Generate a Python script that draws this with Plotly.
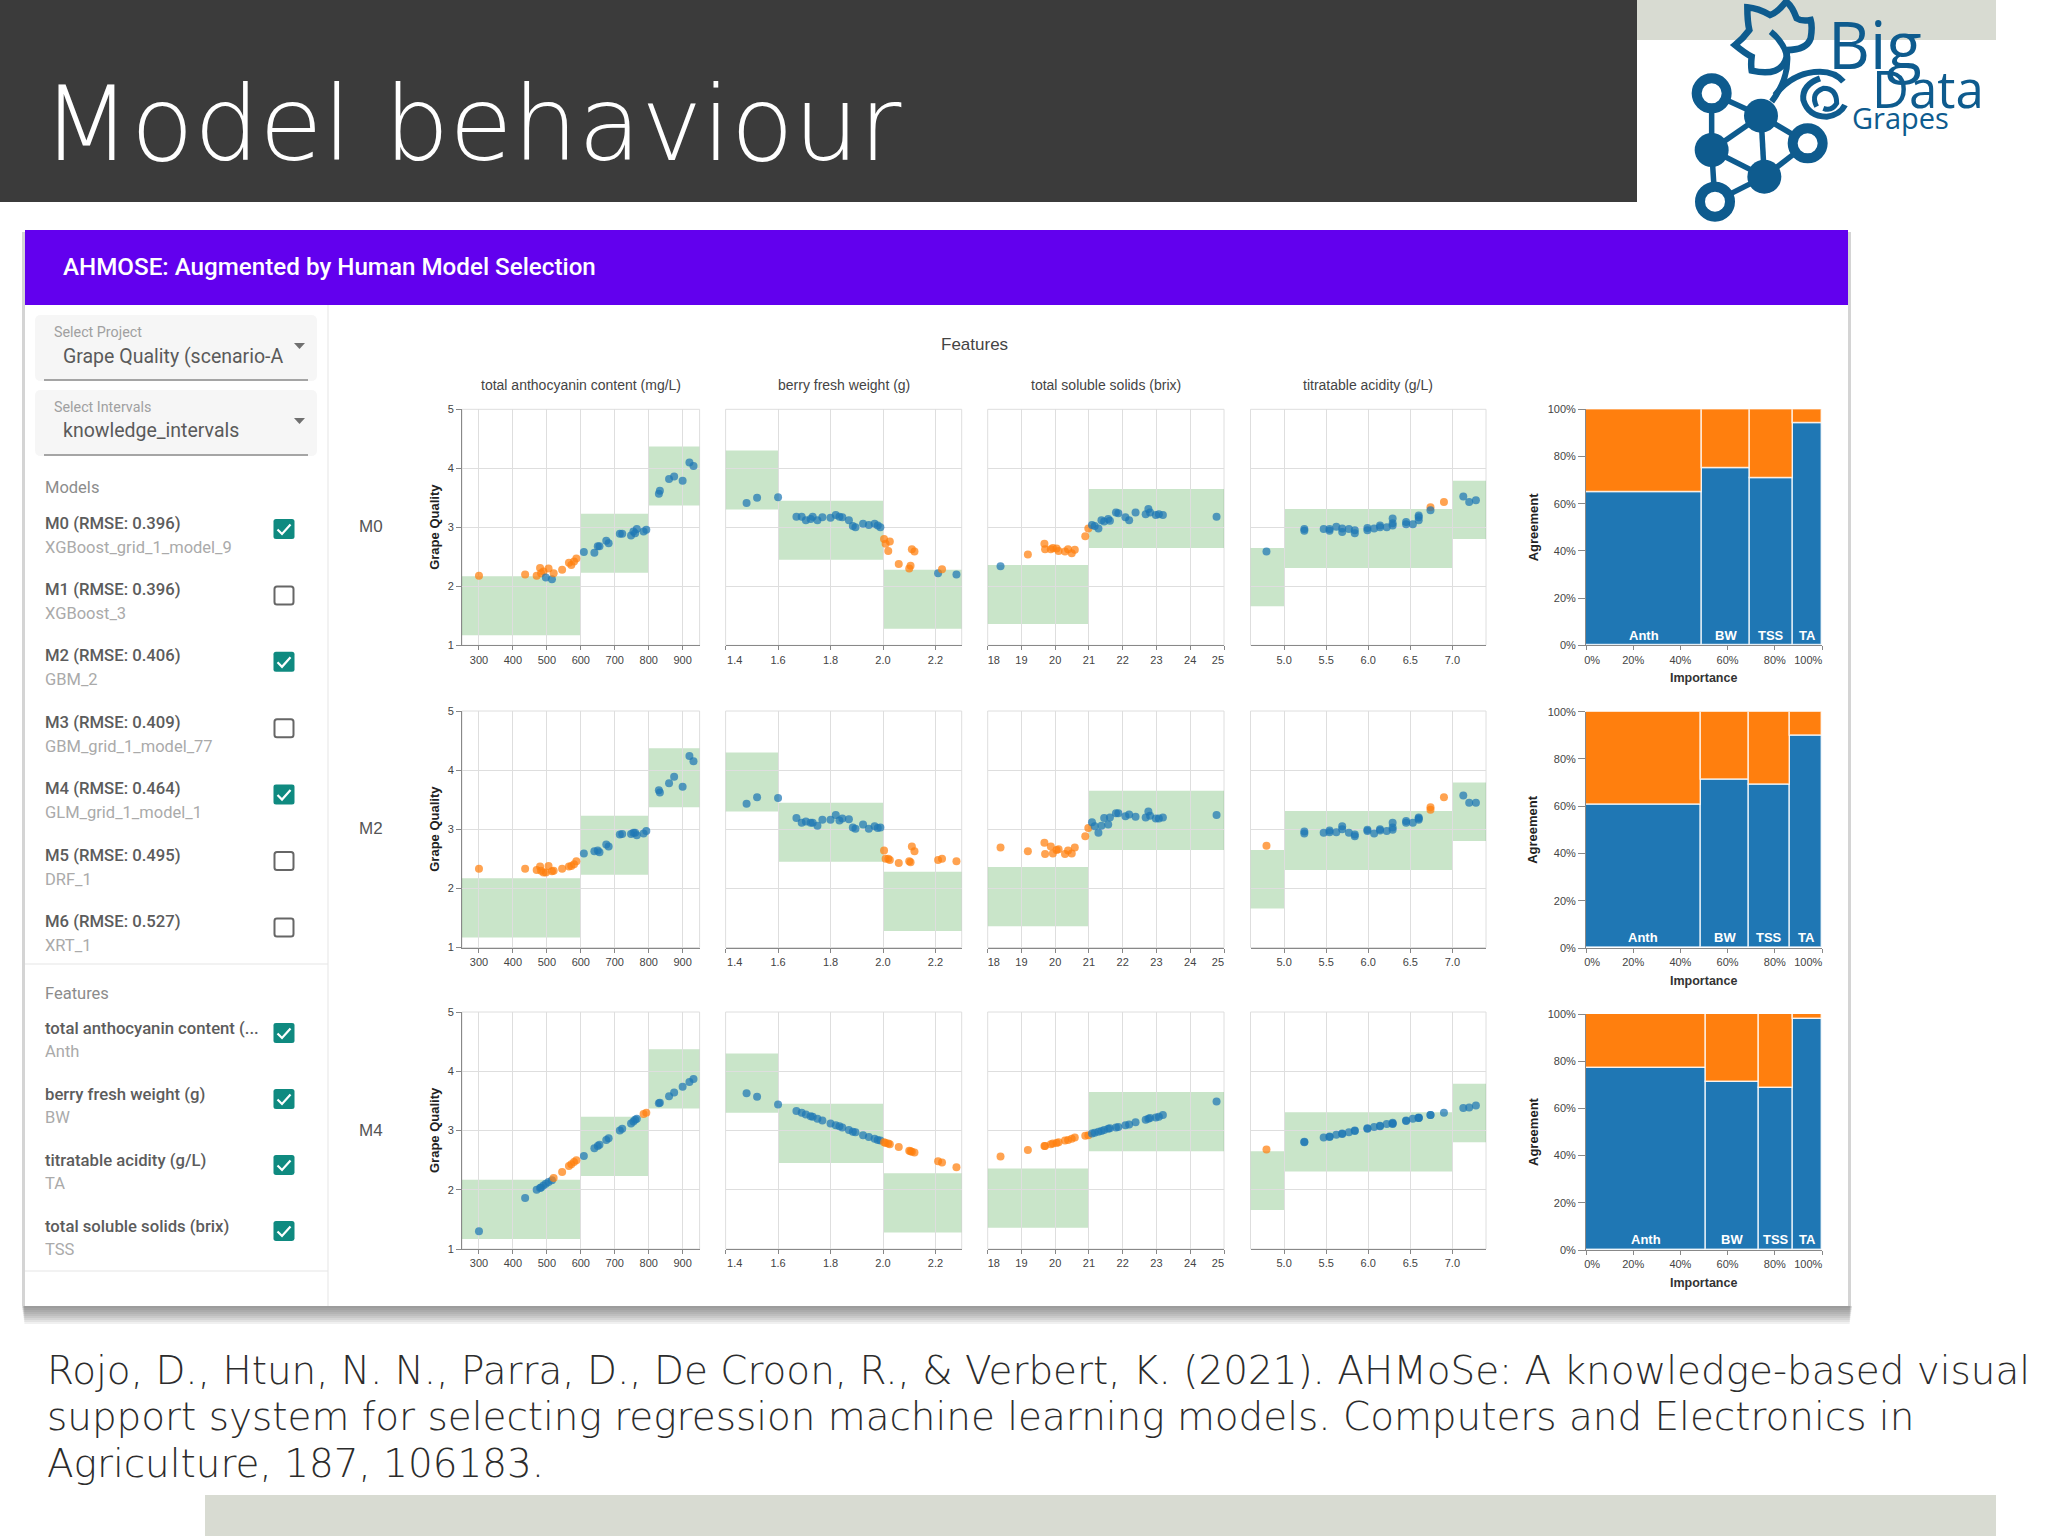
import plotly.graph_objects as go

W = 2048
H = 1536

BLUE = "#1f77b4"
ORANGE = "#ff7f0e"
GRID = "#dedede"
AXIS = "#888888"
TICK = "#444444"
LOGO = "#0e5b8e"
STRIP = "#d8dbd2"
TEAL = "#0f8a80"

# x values are the same samples in every model row
ANTH_X = [300, 436, 470, 480, 483, 490, 497, 505, 515, 520, 545, 565, 572, 580, 587, 609, 640, 650, 655, 675, 682, 715, 722, 748, 755, 760, 765, 785, 793, 830, 833, 860, 875, 900, 920, 932]
BW_X = [1.48, 1.52, 1.6, 1.67, 1.69, 1.706, 1.724, 1.732, 1.75, 1.769, 1.80, 1.82, 1.834, 1.845, 1.87, 1.885, 1.895, 1.924, 1.946, 1.968, 1.98, 1.99, 2.004, 2.01, 2.02, 2.026, 2.06, 2.10, 2.105, 2.11, 2.12, 2.21, 2.225, 2.28]
TSS_X = [18.38, 19.19, 19.68, 19.7, 19.87, 19.93, 20.04, 20.1, 20.29, 20.38, 20.49, 20.58, 20.89, 20.98, 21.09, 21.17, 21.28, 21.37, 21.45, 21.57, 21.62, 21.8, 21.87, 22.08, 22.19, 22.38, 22.68, 22.76, 22.81, 22.98, 23.07, 23.19, 24.78]
TA_X = [4.79, 5.24, 5.24, 5.47, 5.54, 5.54, 5.62, 5.69, 5.69, 5.77, 5.84, 5.84, 5.99, 5.99, 6.07, 6.14, 6.14, 6.22, 6.29, 6.29, 6.29, 6.45, 6.45, 6.53, 6.6, 6.6, 6.6, 6.74, 6.74, 6.9, 7.13, 7.2, 7.28]

M0_ANTH = [2.18, 2.2, 2.18, 2.31, 2.22, 2.25, 2.15, 2.3, 2.12, 2.22, 2.28, 2.4, 2.36, 2.42, 2.47, 2.58, 2.57, 2.68, 2.68, 2.77, 2.73, 2.89, 2.89, 2.86, 2.93, 2.9, 2.97, 2.93, 2.96, 3.57, 3.62, 3.82, 3.86, 3.79, 4.1, 4.04]
M2_ANTH = [2.33, 2.33, 2.31, 2.37, 2.3, 2.27, 2.27, 2.38, 2.29, 2.3, 2.33, 2.37, 2.38, 2.41, 2.46, 2.59, 2.63, 2.64, 2.61, 2.74, 2.71, 2.91, 2.92, 2.92, 2.94, 2.94, 2.9, 2.93, 2.97, 3.66, 3.62, 3.78, 3.89, 3.72, 4.24, 4.15]
M4_ANTH = [1.3, 1.86, 2.0, 2.03, 2.04, 2.07, 2.1, 2.13, 2.16, 2.2, 2.3, 2.4, 2.43, 2.47, 2.5, 2.57, 2.7, 2.74, 2.76, 2.84, 2.87, 3.0, 3.03, 3.12, 3.15, 3.18, 3.2, 3.28, 3.3, 3.46, 3.47, 3.58, 3.64, 3.74, 3.82, 3.87]

M0_BW = [3.41, 3.5, 3.51, 3.18, 3.18, 3.12, 3.14, 3.18, 3.12, 3.17, 3.16, 3.21, 3.18, 3.17, 3.12, 3.02, 3.0, 3.06, 3.04, 3.06, 3.03, 3.0, 2.8, 2.72, 2.6, 2.76, 2.38, 2.3, 2.35, 2.63, 2.59, 2.22, 2.29, 2.2]
M2_BW = [3.43, 3.54, 3.53, 3.19, 3.11, 3.13, 3.11, 3.11, 3.06, 3.16, 3.16, 3.24, 3.15, 3.18, 3.17, 3.03, 3.01, 3.08, 3.01, 3.05, 3.02, 3.03, 2.64, 2.5, 2.5, 2.48, 2.43, 2.46, 2.44, 2.71, 2.63, 2.48, 2.5, 2.46]
M4_BW = [3.63, 3.57, 3.44, 3.33, 3.3, 3.27, 3.24, 3.23, 3.2, 3.17, 3.12, 3.09, 3.07, 3.05, 3.01, 2.98, 2.97, 2.92, 2.89, 2.86, 2.84, 2.83, 2.8, 2.79, 2.78, 2.77, 2.72, 2.66, 2.65, 2.64, 2.63, 2.48, 2.46, 2.38]

M0_TSS = [2.34, 2.54, 2.72, 2.63, 2.63, 2.65, 2.64, 2.6, 2.59, 2.63, 2.56, 2.62, 2.85, 2.98, 3.04, 3.02, 2.98, 3.12, 3.1, 3.14, 3.11, 3.25, 3.24, 3.17, 3.12, 3.25, 3.22, 3.31, 3.25, 3.21, 3.22, 3.21, 3.18]
M2_TSS = [2.69, 2.63, 2.77, 2.58, 2.71, 2.59, 2.65, 2.66, 2.58, 2.64, 2.59, 2.69, 2.88, 3.02, 3.12, 3.05, 2.94, 3.06, 3.19, 3.08, 3.2, 3.27, 3.27, 3.22, 3.25, 3.21, 3.2, 3.3, 3.23, 3.18, 3.18, 3.2, 3.24]
M4_TSS = [2.56, 2.67, 2.74, 2.74, 2.77, 2.78, 2.79, 2.8, 2.83, 2.84, 2.86, 2.88, 2.91, 2.92, 2.95, 2.96, 2.98, 2.99, 3.01, 3.03, 3.04, 3.05, 3.06, 3.09, 3.1, 3.14, 3.18, 3.2, 3.21, 3.22, 3.23, 3.26, 3.49]

M0_TA = [2.59, 2.97, 2.94, 2.97, 2.97, 2.94, 3.01, 2.98, 2.92, 2.97, 2.95, 2.9, 2.99, 2.95, 2.98, 3.03, 3.0, 3.0, 3.15, 3.07, 3.03, 3.09, 3.05, 3.05, 3.2, 3.17, 3.12, 3.34, 3.29, 3.43, 3.52, 3.43, 3.46]
M2_TA = [2.72, 2.96, 2.93, 2.94, 2.98, 2.95, 2.95, 3.05, 3.0, 2.94, 2.91, 2.88, 2.99, 2.97, 2.93, 3.0, 2.98, 2.97, 3.11, 3.03, 2.99, 3.14, 3.11, 3.11, 3.2, 3.18, 3.16, 3.37, 3.33, 3.54, 3.57, 3.45, 3.45]
M4_TA = [2.68, 2.81, 2.8, 2.88, 2.9, 2.89, 2.93, 2.95, 2.94, 2.97, 3.0, 2.99, 3.04, 3.03, 3.06, 3.08, 3.07, 3.11, 3.13, 3.12, 3.11, 3.17, 3.16, 3.2, 3.22, 3.21, 3.21, 3.26, 3.26, 3.3, 3.38, 3.39, 3.42]

# knowledge intervals per feature: x from, x to, y low, y high
ANTH_BANDS = [(250, 600, 1.17, 2.17), (600, 800, 2.23, 3.23), (800, 950, 3.37, 4.37)]
BW_BANDS = [(1.4, 1.6, 3.3, 4.3), (1.6, 2.0, 2.45, 3.45), (2.0, 2.3, 1.28, 2.28)]
TSS_BANDS = [(18, 21, 1.36, 2.36), (21, 25, 2.65, 3.65)]
TA_BANDS = [(4.6, 5.0, 1.66, 2.65), (5.0, 7.0, 2.31, 3.31), (7.0, 7.4, 2.8, 3.79)]

MOSAIC_NAMES = ["Anth", "BW", "TSS", "TA"]
M0_IMPORTANCE = [0.49, 0.205, 0.181, 0.124]
M0_AGREE = [0.647, 0.752, 0.709, 0.94]
M2_IMPORTANCE = [0.487, 0.203, 0.175, 0.135]
M2_AGREE = [0.605, 0.711, 0.69, 0.898]
M4_IMPORTANCE = [0.507, 0.227, 0.144, 0.122]
M4_AGREE = [0.773, 0.71, 0.688, 0.979]

ROW_NAMES = ["M0", "M2", "M4"]
FEATURE_TITLES = ["total anthocyanin content (mg/L)", "berry fresh weight (g)", "total soluble solids (brix)", "titratable acidity (g/L)"]
FEATURE_XS = [ANTH_X, BW_X, TSS_X, TA_X]
FEATURE_BANDS = [ANTH_BANDS, BW_BANDS, TSS_BANDS, TA_BANDS]
FEATURE_RANGES = [[250, 950], [1.4, 2.3], [18, 25], [4.6, 7.4]]
FEATURE_TICKS = [[300, 400, 500, 600, 700, 800, 900], [1.4, 1.6, 1.8, 2.0, 2.2], [18, 19, 20, 21, 22, 23, 24, 25], [5, 5.5, 6, 6.5, 7]]
NB = "\u00a0"
FEATURE_TICKTEXT = [
    ["300", "400", "500", "600", "700", "800", "900"],
    [NB * 6 + "1.4", "1.6", "1.8", "2.0", "2.2"],
    [NB * 4 + "18", "19", "20", "21", "22", "23", "24", "25" + NB * 4],
    ["5.0", "5.5", "6.0", "6.5", "7.0"],
]
ROW_Y = [M0_ANTH, M0_BW, M0_TSS, M0_TA], [M2_ANTH, M2_BW, M2_TSS, M2_TA], [M4_ANTH, M4_BW, M4_TSS, M4_TA]
ROW_IMPORTANCE = [M0_IMPORTANCE, M2_IMPORTANCE, M4_IMPORTANCE]
ROW_AGREE = [M0_AGREE, M2_AGREE, M4_AGREE]

MODEL_ITEMS = [("M0 (RMSE: 0.396)", "XGBoost_grid_1_model_9", True), ("M1 (RMSE: 0.396)", "XGBoost_3", False),
               ("M2 (RMSE: 0.406)", "GBM_2", True), ("M3 (RMSE: 0.409)", "GBM_grid_1_model_77", False),
               ("M4 (RMSE: 0.464)", "GLM_grid_1_model_1", True), ("M5 (RMSE: 0.495)", "DRF_1", False),
               ("M6 (RMSE: 0.527)", "XRT_1", False)]
FEATURE_ITEMS = [("total anthocyanin content (...", "Anth"), ("berry fresh weight (g)", "BW"),
                 ("titratable acidity (g/L)", "TA"), ("total soluble solids (brix)", "TSS")]
CITATION = ["Rojo, D., Htun, N. N., Parra, D., De Croon, R., & Verbert, K. (2021). AHMoSe: A knowledge-based visual",
            "support system for selecting regression machine learning models. Computers and Electronics in",
            "Agriculture, 187, 106183."]

# pixel layout of the panels
COL_X = [(462, 699.6), (725.6, 961.7), (987.7, 1224), (1250.5, 1486)]
ROW_TOP = [(409.3, 645.3), (711, 947.5), (1012, 1249)]
MOSAIC_X = (1586, 1822)
MOSAIC_TOP = [(409.3, 645.3), (711.7, 948), (1014, 1250)]


def fx(x):
    return x / W


def fy(y):
    return 1 - y / H


def axis_id(n):
    return "" if n == 1 else str(n)


shapes = []
annotations = []


def rect(x0, y0, x1, y1, fill, line=None, opacity=1, width=1):
    shapes.append(dict(type="rect", xref="paper", yref="paper", x0=fx(x0), x1=fx(x1), y0=fy(y0), y1=fy(y1),
                       fillcolor=fill, opacity=opacity, layer="below", line=dict(color=line, width=width) if line else dict(width=0)))


def path(d, fill=None, line=None, width=1, layer="below"):
    # d is a list of (command, x, y) in pixels
    parts = []
    for item in d:
        cmd = item[0]
        nums = item[1:]
        txt = []
        for i in range(0, len(nums), 2):
            txt.append("%.5f,%.5f" % (fx(nums[i]), fy(nums[i + 1])))
        parts.append(cmd + " " + " ".join(txt))
    shapes.append(dict(type="path", xref="paper", yref="paper", path=" ".join(parts), layer=layer,
                       fillcolor=fill if fill else "rgba(0,0,0,0)", line=dict(color=line, width=width) if line else dict(width=0)))


def round_rect(x0, y0, x1, y1, r, fill=None, line=None, width=1):
    path([("M", x0 + r, y0), ("L", x1 - r, y0), ("Q", x1, y0, x1, y0 + r), ("L", x1, y1 - r), ("Q", x1, y1, x1 - r, y1),
          ("L", x0 + r, y1), ("Q", x0, y1, x0, y1 - r), ("L", x0, y0 + r), ("Q", x0, y0, x0 + r, y0), ("Z",)],
         fill=fill, line=line, width=width)


def label(text, x, y, size, color, anchor="left", family="Roboto", weight=None, angle=0):
    f = dict(size=size, color=color, family=family)
    if weight:
        f["weight"] = weight
    annotations.append(dict(text=text, x=fx(x), y=fy(y), xref="paper", yref="paper", showarrow=False, xanchor=anchor,
                            yanchor="middle", font=f, textangle=angle, borderpad=0, borderwidth=0))


def checkbox(y, checked):
    cx = 284
    if checked:
        round_rect(cx - 10.5, y - 10, cx + 10.5, y + 10, 2.5, fill=TEAL)
        path([("M", cx - 6.5, y + 0.5), ("L", cx - 2, y + 5), ("L", cx + 6.5, y - 4.5)], line="white", width=2.2)
    else:
        round_rect(cx - 9.5, y - 9, cx + 9.5, y + 9, 2.5, line="#666666", width=2)


def select_box(y0, y1, title, value):
    round_rect(35, y0, 317, y1 + 1, 6, fill="#f6f6f6")
    shapes.append(dict(type="line", xref="paper", yref="paper", x0=fx(44), x1=fx(308), y0=fy(y1), y1=fy(y1),
                       layer="below", line=dict(color="#8a8a8a", width=1.5)))
    label(title, 54, y0 + 17, 14.3, "#a0a0a0")
    label(value, 63, y0 + 41, 19.5, "#5a5a5a")
    path([("M", 294, y0 + 28), ("L", 305, y0 + 28), ("L", 299.5, y0 + 34), ("Z",)], fill="#707070")


# slide background pieces
rect(1637, 0, 1996, 40, STRIP)
rect(205, 1495, 1996, 1536, STRIP)
rect(0, 0, 1637, 202, "#3b3b3b")
label("Model behaviour", 42, 124, 103, "white", family="DejaVu Sans", weight=200)

# card with soft shadow
for i in range(9):
    rect(22 + i * 0.3, 1306, 1852 - i * 0.3, 1308 + i * 2, "#555555", opacity=0.09)
rect(22, 232, 1851, 1306, "#d4d4d4")
rect(25, 230, 1848, 1306, "white")
rect(25, 230, 1848, 305, "#6200ee")
label("AHMOSE: Augmented by Human Model Selection", 63, 267, 24.2, "white", weight=500)
rect(327.5, 305, 328.5, 1306, "#e6e6e6")
rect(25, 963.5, 328, 964.5, "#e6e6e6")
rect(25, 1270.5, 328, 1271.5, "#e6e6e6")

select_box(315, 380, "Select Project", "Grape Quality (scenario-A")
select_box(390, 455, "Select Intervals", "knowledge_intervals")

label("Models", 45, 488, 16.5, "#8c8c8c")
for i, (name, sub, checked) in enumerate(MODEL_ITEMS):
    y = 523 + i * 66.4
    label(name, 45, y, 16.7, "#5c5c5c", weight=500)
    label(sub, 45, y + 24, 16.5, "#aaaaaa")
    checkbox(y + 6, checked)

label("Features", 45, 993, 16.5, "#8c8c8c")
for i, (name, sub) in enumerate(FEATURE_ITEMS):
    y = 1028 + i * 66
    label(name, 45, y, 16.7, "#5c5c5c", weight=500)
    label(sub, 45, y + 23, 16.5, "#aaaaaa")
    checkbox(y + 5, True)

label("Features", 974, 344, 17, "#444444", anchor="center", family="Liberation Sans")
for c, title in enumerate(FEATURE_TITLES):
    label(title, (COL_X[c][0] + COL_X[c][1]) / 2, 385, 14, "#444444", anchor="center", family="Liberation Sans")

for i, line in enumerate(CITATION):
    label(line, 47, 1370 + i * 46.5, 38.9, "#2c2c2c", family="DejaVu Sans", weight=200)

# logo, drawn in the crop's own coordinates
def lp(*nums):
    out = []
    for i in range(0, len(nums), 2):
        out += [1660 + nums[i] / 3, nums[i + 1] / 3]
    return out


def lpath(cmds, width):
    path([(c[0], *lp(*c[1:])) for c in cmds], line=LOGO, width=width, layer="above")


def lcircle(x, y, r, fill, width=0):
    cx, cy = lp(x, y)
    shapes.append(dict(type="circle", xref="paper", yref="paper", x0=fx(cx - r), x1=fx(cx + r), y0=fy(cy - r), y1=fy(cy + r),
                       fillcolor=fill, line=dict(color=LOGO, width=width), layer="above"))


for a, b in [((155, 280), (303, 347)), ((155, 280), (155, 450)), ((303, 347), (443, 430)), ((303, 347), (155, 450)),
             ((303, 347), (313, 530)), ((155, 450), (313, 530)), ((443, 430), (313, 530)), ((155, 450), (165, 605)),
             ((165, 605), (313, 530))]:
    lpath([("M", *a), ("L", *b)], 5.5)
lcircle(155, 280, 15, "white", 10)
lcircle(443, 430, 15, "white", 10)
lcircle(165, 605, 15, "white", 10)
lcircle(303, 347, 17, LOGO)
lcircle(155, 450, 17, LOGO)
lcircle(313, 530, 17, LOGO)
lpath([("M", 380, 150), ("Q", 440, 150, 452, 115), ("Q", 458, 80, 452, 60), ("Q", 425, 65, 410, 55), ("Q", 395, 15, 378, 5),
       ("Q", 350, 40, 330, 45), ("Q", 295, 25, 262, 22), ("Q", 262, 65, 268, 90), ("Q", 250, 115, 225, 135), ("Q", 255, 160, 275, 170),
       ("Q", 272, 195, 275, 212), ("Q", 320, 222, 345, 212), ("Q", 385, 195, 380, 150)], 6.5)
lpath([("M", 332, 95), ("Q", 370, 125, 382, 170), ("Q", 385, 240, 335, 305)], 6)
lpath([("M", 345, 285), ("Q", 400, 215, 480, 215), ("Q", 525, 215, 550, 245)], 6)
lpath([("M", 480, 235), ("Q", 425, 255, 430, 300), ("Q", 445, 350, 500, 350), ("Q", 540, 345, 555, 315)], 6)
lpath([("M", 470, 320), ("Q", 450, 280, 490, 265), ("Q", 530, 265, 530, 310), ("Q", 515, 335, 490, 325)], 5)
label("Big", 1828, 44, 65, LOGO, family="Open Sans")
label("Data", 1872, 88, 51, LOGO, family="Open Sans")
label("Grapes", 1852, 118, 29, LOGO, family="Open Sans")

fig = go.Figure()
layout_axes = {}
n = 0

for r, row in enumerate(ROW_NAMES):
    top, bottom = ROW_TOP[r]
    label(row, 371, (top + bottom) / 2 - 0.5, 17, "#555555", anchor="center", family="Liberation Sans")
    label("Grape Quality", 434.5, (top + bottom) / 2, 13, "#222222", anchor="center", family="Liberation Sans", weight=700, angle=-90)

    for c in range(4):
        n += 1
        ax = axis_id(n)
        xs = FEATURE_XS[c]
        ys = ROW_Y[r][c]
        bands = FEATURE_BANDS[c]

        colors = []
        for x, y in zip(xs, ys):
            inside = any(b[0] <= x <= b[1] and b[2] <= y <= b[3] for b in bands)
            colors.append(BLUE if inside else ORANGE)

        fig.add_trace(go.Scatter(x=xs, y=ys, mode="markers", xaxis="x" + ax, yaxis="y" + ax, showlegend=False,
                                 marker=dict(color=colors, size=8, opacity=0.72, line=dict(width=0))))
        for b in bands:
            shapes.append(dict(type="rect", xref="x" + ax, yref="y" + ax, x0=b[0], x1=b[1], y0=b[2], y1=b[3],
                               fillcolor="rgba(60,160,60,0.28)", line=dict(width=0), layer="below"))
        shapes.append(dict(type="rect", xref="x" + ax + " domain", yref="y" + ax + " domain", x0=0, x1=1, y0=0, y1=1,
                           line=dict(color=GRID, width=1), layer="below"))

        layout_axes["xaxis" + ax] = dict(domain=[fx(COL_X[c][0]), fx(COL_X[c][1])], anchor="y" + ax, range=FEATURE_RANGES[c],
                                         tickmode="array", tickvals=FEATURE_TICKS[c], ticktext=FEATURE_TICKTEXT[c], automargin=False,
                                         showgrid=True, gridcolor=GRID, zeroline=False, showline=True, linecolor=AXIS,
                                         ticks="outside", ticklen=4, tickcolor=AXIS, tickfont=dict(size=11, color=TICK, family="Liberation Sans"))
        layout_axes["yaxis" + ax] = dict(domain=[fy(bottom), fy(top)], anchor="x" + ax, range=[1, 5], tickvals=[1, 2, 3, 4, 5], automargin=False,
                                         showgrid=True, gridcolor=GRID, zeroline=False, showline=c == 0, linecolor=AXIS,
                                         ticks="outside" if c == 0 else "", ticklen=5, tickcolor=AXIS, showticklabels=c == 0,
                                         tickfont=dict(size=11, color=TICK, family="Liberation Sans"))

    # mosaic of importance against agreement
    n += 1
    ax = axis_id(n)
    m_top, m_bottom = MOSAIC_TOP[r]
    widths = ROW_IMPORTANCE[r]
    agree = ROW_AGREE[r]
    lefts = []
    total = 0
    for w in widths:
        lefts.append(total)
        total += w
    rest = [1 - a for a in agree]
    bar_line = dict(color="rgba(255,255,255,0.75)", width=1.5)
    fig.add_trace(go.Bar(x=lefts, y=agree, width=widths, offset=0, marker=dict(color=BLUE, line=bar_line), showlegend=False,
                         xaxis="x" + ax, yaxis="y" + ax))
    fig.add_trace(go.Bar(x=lefts, y=rest, base=agree, width=widths, offset=0, marker=dict(color=ORANGE, line=bar_line), showlegend=False,
                         xaxis="x" + ax, yaxis="y" + ax))
    for left, w, name in zip(lefts, widths, MOSAIC_NAMES):
        annotations.append(dict(text=name, x=left + w / 2, y=0.043, xref="x" + ax, yref="y" + ax, showarrow=False,
                                font=dict(size=13, color="white", family="Liberation Sans", weight=700)))
    layout_axes["xaxis" + ax] = dict(domain=[fx(MOSAIC_X[0]), fx(MOSAIC_X[1])], anchor="y" + ax, range=[0, 1], automargin=False,
                                     tickmode="array", tickvals=[0, 0.2, 0.4, 0.6, 0.8, 1],
                                     ticktext=[NB * 4 + "0%", "20%", "40%", "60%", "80%", "100%" + NB * 9],
                                     showgrid=False, zeroline=False, showline=True, linecolor=AXIS, ticks="outside", ticklen=4,
                                     tickcolor=AXIS, tickfont=dict(size=11, color=TICK, family="Liberation Sans"))
    layout_axes["yaxis" + ax] = dict(domain=[fy(m_bottom), fy(m_top)], anchor="x" + ax, range=[0, 1], automargin=False,
                                     tickvals=[0, 0.2, 0.4, 0.6, 0.8, 1], tickformat=".0%", showgrid=False, zeroline=False,
                                     showline=True, linecolor=AXIS, ticks="outside", ticklen=7, tickcolor=AXIS,
                                     tickfont=dict(size=11, color=TICK, family="Liberation Sans"))
    label("Agreement", 1533, (m_top + m_bottom) / 2, 13, "#222222", anchor="center", family="Liberation Sans", weight=700, angle=-90)
    label("Importance", 1703, m_bottom + 33, 12.5, "#333333", anchor="center", family="Liberation Sans", weight=700)

fig.update_layout(width=W, height=H, margin=dict(l=0, r=0, t=0, b=0, pad=0), autosize=False, paper_bgcolor="white",
                  plot_bgcolor="rgba(0,0,0,0)", barmode="overlay", bargap=0, shapes=shapes, annotations=annotations, showlegend=False,
                  **layout_axes)

fig.write_html("out.html", config={"displayModeBar": False}, post_script="document.body.style.margin='0';")
